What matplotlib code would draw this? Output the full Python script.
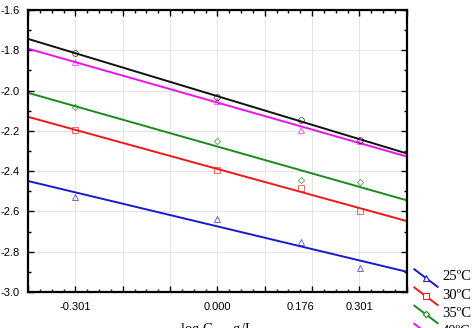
import numpy as np
import matplotlib
matplotlib.use("Agg")
import matplotlib.pyplot as plt
from matplotlib.lines import Line2D
from matplotlib.legend_handler import HandlerLine2D

matplotlib.rcParams['font.family'] = 'Liberation Sans'
matplotlib.rcParams['mathtext.fontset'] = 'custom'
matplotlib.rcParams['mathtext.rm'] = 'Liberation Serif'
matplotlib.rcParams['mathtext.it'] = 'Liberation Serif:italic'

# log of inhibitor concentration
log_c = np.array([-0.301, 0.000, 0.176, 0.301])
tick_labels = ['-0.301', '0.000', '0.176', '0.301']

# log of corrosion rate at each temperature
y_25 = [-2.528, -2.637, -2.751, -2.880]
y_30 = [-2.196, -2.394, -2.483, -2.597]
y_35 = [-2.081, -2.250, -2.444, -2.454]
y_40 = [-1.858, -2.052, -2.196, -2.250]
y_45 = [-1.813, -2.032, -2.146, -2.245]

series = [
    ('25ºC', y_25, '#1a1acc', '^'),
    ('30ºC', y_30, '#f01818', 's'),
    ('35ºC', y_35, '#1c8a1c', 'D'),
    ('40ºC', y_40, '#f010f0', '^'),
    ('45ºC', y_45, '#101010', 'o'),
]


class SlantHandler(HandlerLine2D):
    # legend key drawn as a falling diagonal with the marker in the middle
    def create_artists(self, legend, orig_handle, xdescent, ydescent,
                       width, height, fontsize, trans):
        x0, x1 = -xdescent, -xdescent + width
        y0, y1 = -ydescent + height * 1.0, -ydescent - height * 0.45
        line = Line2D([x0, x1], [y0, y1], color=orig_handle.get_color(),
                      lw=orig_handle.get_linewidth())
        mark = Line2D([(x0 + x1) / 2], [(y0 + y1) / 2],
                      marker=orig_handle.get_marker(), ls='none',
                      ms=orig_handle.get_markersize(),
                      mfc='white', mec=orig_handle.get_color(), mew=0.8)
        line.set_transform(trans)
        mark.set_transform(trans)
        return [line, mark]


fig = plt.figure(figsize=(4.74, 3.28), dpi=100)
ax = fig.add_axes([28/474, 1 - 292/328, (406.7 - 28)/474, (292 - 10)/328])

xfit = np.array([-0.4, 0.4])
handles = []
for label, y, color, marker in series:
    k, b = np.polyfit(log_c, y, 1)
    ms = 4.2 if marker != 'D' else 3.2
    ax.plot(log_c, y, ls='none', marker=marker, ms=ms, mfc='none',
            mec=color, mew=0.6, alpha=0.75, zorder=3)
    ax.plot(xfit, k * xfit + b, color=color, lw=1.4, zorder=2)
    handles.append(Line2D([], [], color=color, lw=1.4, marker=marker,
                          ms=ms, label=label))

ax.set_xlim(-0.4, 0.4)
ax.set_ylim(-3.0, -1.6)

ax.set_xticks(np.arange(-0.4, 0.401, 0.1))
ax.set_xticklabels([])
ax.set_xticks(np.arange(-0.4, 0.401, 0.025), minor=True)
ax.set_yticks(np.arange(-3.0, -1.59, 0.2))
ax.set_yticklabels(['%.1f' % v for v in np.arange(-3.0, -1.59, 0.2)])
ax.set_yticks(np.arange(-3.0, -1.59, 0.1), minor=True)

ax.tick_params(which='both', direction='in', top=True, right=True,
               width=1.0, labelsize=8, pad=6)
ax.tick_params(which='major', length=4)
ax.tick_params(which='minor', length=2.5)
ax.grid(which='major', color='#e4e4e4', lw=0.7)
for sp in ax.spines.values():
    sp.set_linewidth(1.6)

# concentration labels under the axis
for xv, txt in zip(log_c, tick_labels):
    ax.text(xv, -0.035, txt, transform=ax.get_xaxis_transform(),
            ha='center', va='top', fontsize=8)

ax.set_xlabel(r'log C$_{\rm inh}$, g/L', family='Liberation Serif',
              fontsize=10.5, labelpad=15)

fig.legend(handles=handles, handler_map={Line2D: SlantHandler()},
           loc='upper left', bbox_to_anchor=(407/474, 1 - 262/328),
           frameon=False, prop={'family': 'Liberation Serif', 'size': 10.5},
           handlelength=1.6, handleheight=0.9, handletextpad=0.3,
           labelspacing=0.28, borderpad=0)

fig.savefig('out.png', dpi=100)
